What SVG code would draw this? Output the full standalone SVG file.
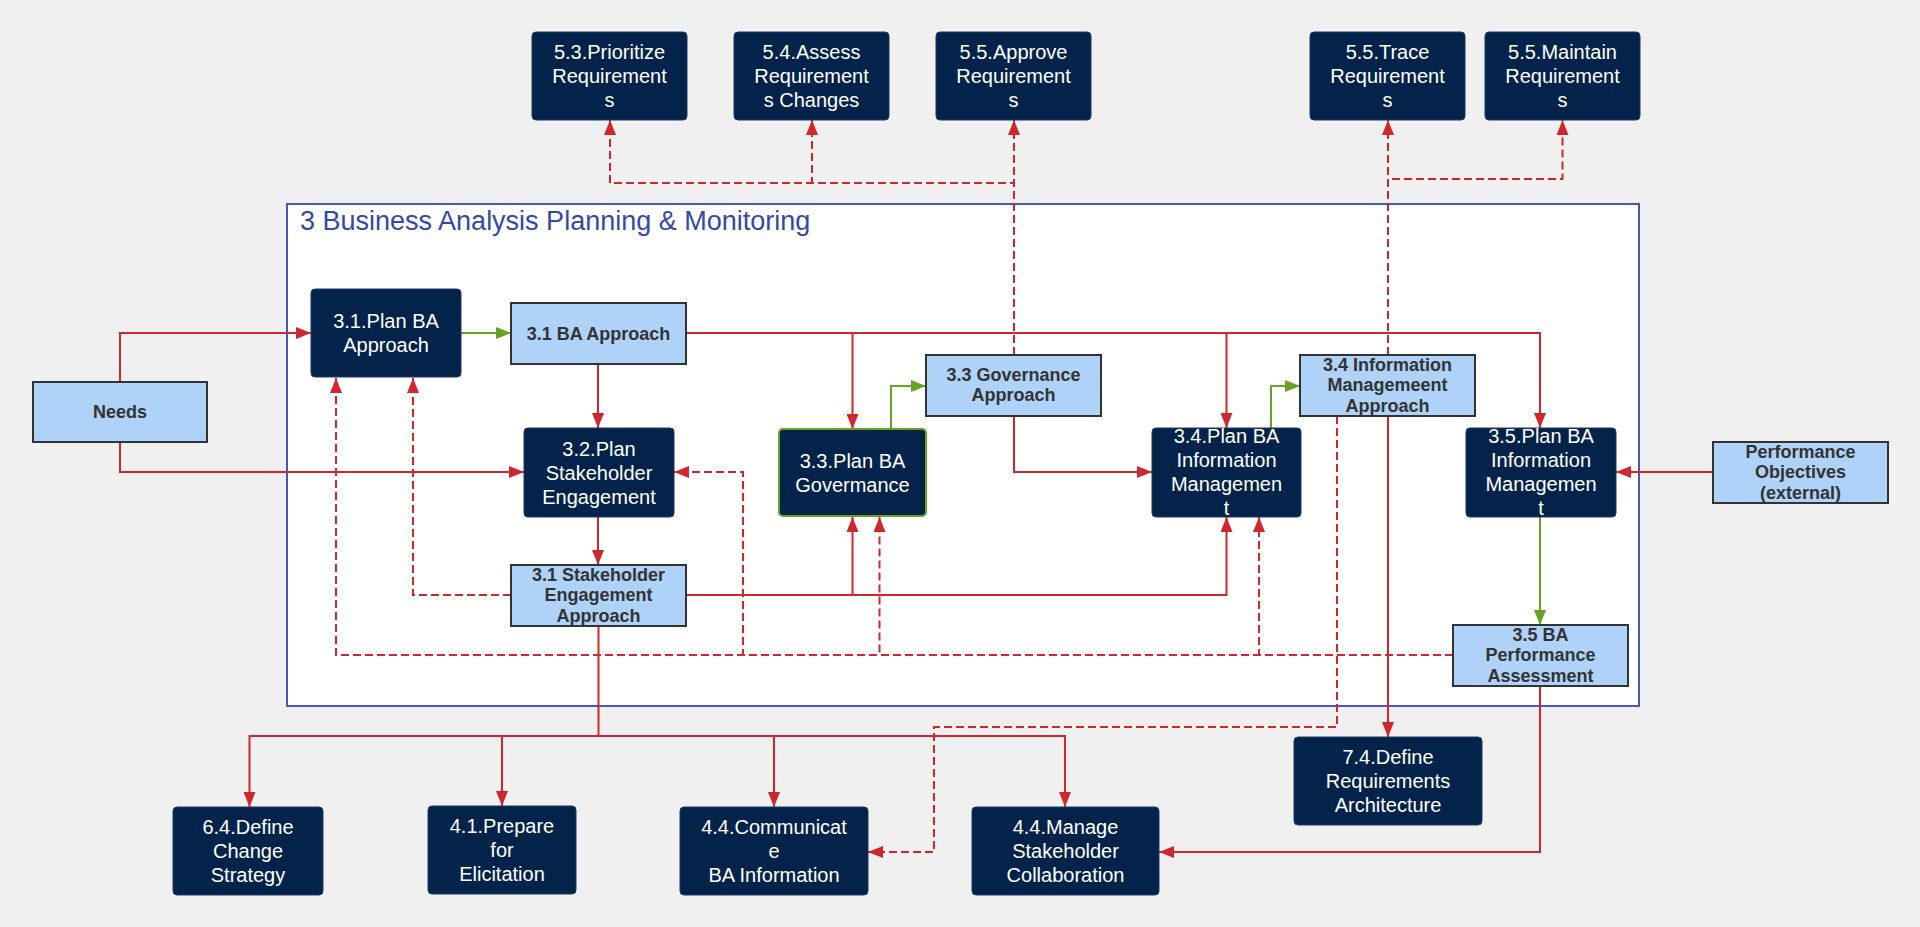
<svg xmlns="http://www.w3.org/2000/svg" width="1920" height="927" viewBox="0 0 1920 927">
<defs>
<marker id="ar" markerUnits="userSpaceOnUse" markerWidth="15" markerHeight="12" refX="15" refY="6" orient="auto"><path d="M0,0 L15,6 L0,12 z" fill="#D0262C"/></marker>
<marker id="ag" markerUnits="userSpaceOnUse" markerWidth="15" markerHeight="12" refX="15" refY="6" orient="auto"><path d="M0,0 L15,6 L0,12 z" fill="#67A223"/></marker>
<style>
.dk{fill:#04234A;stroke:#1d3a63;stroke-width:1}
.lt{fill:#AED2F8;stroke:#333;stroke-width:2}
.tw{font-family:"Liberation Sans",Arial,sans-serif;font-size:20px;fill:#fff;text-anchor:middle}
.tb{font-family:"Liberation Sans",Arial,sans-serif;font-size:18px;font-weight:bold;fill:#333;text-anchor:middle}
.r{fill:none;stroke:#D0262C;stroke-width:2;marker-end:url(#ar)}
.rd{fill:none;stroke:#D0262C;stroke-width:2;stroke-dasharray:8,4;marker-end:url(#ar)}
.g{fill:none;stroke:#67A223;stroke-width:2;marker-end:url(#ag)}
</style>
</defs>
<rect width="1920" height="927" fill="#F0F0F0"/>
<g id="container">
<rect x="287" y="204" width="1352" height="502" fill="#fff" stroke="#4658B8" stroke-width="2"/>
<text x="300" y="230" font-family="Liberation Sans,Arial,sans-serif" font-size="27" fill="#3448A8">3 Business Analysis Planning &amp; Monitoring</text>
</g>
<g id="connectors">
<path class="r" d="M120,382 V333 H311"/>
<path class="r" d="M120,442 V472 H524"/>
<path class="g" d="M461,333 H511"/>
<path class="r" d="M598,364 V428"/>
<path class="r" d="M686,333 H852.5 V429"/>
<path class="r" d="M686,333 H1226.5 V428"/>
<path class="r" d="M686,333 H1540 V428"/>
<path class="r" d="M598,517 V565"/>
<path class="r" d="M686,595 H852.5 V517"/>
<path class="r" d="M686,595 H1226.5 V517"/>
<path class="rd" d="M511,595 H413 V378"/>
<path class="r" d="M598.5,626 V736 H249.5 V807"/>
<path class="r" d="M598.5,736 H502 V806"/>
<path class="r" d="M598.5,736 H774 V807"/>
<path class="r" d="M598.5,736 H1065 V807"/>
<path class="g" d="M891,429 V386 H926"/>
<path class="r" d="M1014,416 V472 H1152"/>
<path class="rd" d="M1014,355 V183 H610 V120"/>
<path class="rd" d="M1014,355 V183 H812 V120"/>
<path class="rd" d="M1014,355 V120"/>
<path class="g" d="M1271,428 V386 H1300"/>
<path class="rd" d="M1388,355 V120"/>
<path class="rd" d="M1388,355 V179 H1562.5 V120"/>
<path class="r" d="M1388,416 V737"/>
<path class="rd" d="M1337,416 V727 H934 V852 H868"/>
<path class="r" d="M1713,472 H1616"/>
<path class="g" d="M1540,517 V625"/>
<path class="r" d="M1540,686 V852 H1159"/>
<path class="rd" d="M1453,655 H336 V378"/>
<path class="rd" d="M1453,655 H743 V472 H674"/>
<path class="rd" d="M1453,655 H879.5 V517"/>
<path class="rd" d="M1453,655 H1259 V517"/>
</g>
<g id="n53"><rect class="dk" x="532" y="32" width="155" height="88" rx="4"/><text class="tw" x="609.5" y="59">5.3.Prioritize</text><text class="tw" x="609.5" y="83">Requirement</text><text class="tw" x="609.5" y="107">s</text></g>
<g id="n54"><rect class="dk" x="734" y="32" width="155" height="88" rx="4"/><text class="tw" x="811.5" y="59">5.4.Assess</text><text class="tw" x="811.5" y="83">Requirement</text><text class="tw" x="811.5" y="107">s Changes</text></g>
<g id="n55a"><rect class="dk" x="936" y="32" width="155" height="88" rx="4"/><text class="tw" x="1013.5" y="59">5.5.Approve</text><text class="tw" x="1013.5" y="83">Requirement</text><text class="tw" x="1013.5" y="107">s</text></g>
<g id="n55t"><rect class="dk" x="1310" y="32" width="155" height="88" rx="4"/><text class="tw" x="1387.5" y="59">5.5.Trace</text><text class="tw" x="1387.5" y="83">Requirement</text><text class="tw" x="1387.5" y="107">s</text></g>
<g id="n55m"><rect class="dk" x="1485" y="32" width="155" height="88" rx="4"/><text class="tw" x="1562.5" y="59">5.5.Maintain</text><text class="tw" x="1562.5" y="83">Requirement</text><text class="tw" x="1562.5" y="107">s</text></g>
<g id="needs"><rect class="lt" x="33" y="382" width="174" height="60"/><text class="tb" x="120" y="418">Needs</text></g>
<g id="n31"><rect class="dk" x="311" y="289" width="150" height="88" rx="4"/><text class="tw" x="386" y="328">3.1.Plan BA</text><text class="tw" x="386" y="352">Approach</text></g>
<g id="o31"><rect class="lt" x="511" y="303" width="175" height="61"/><text class="tb" x="598.5" y="340">3.1 BA Approach</text></g>
<g id="n32"><rect class="dk" x="524" y="428" width="150" height="89" rx="4"/><text class="tw" x="599" y="456">3.2.Plan</text><text class="tw" x="599" y="480">Stakeholder</text><text class="tw" x="599" y="504">Engagement</text></g>
<g id="o31s"><rect class="lt" x="511" y="565" width="175" height="61"/><text class="tb" x="598.5" y="580.5">3.1 Stakeholder</text><text class="tb" x="598.5" y="601">Engagement</text><text class="tb" x="598.5" y="621.5">Approach</text></g>
<g id="n33"><rect x="779" y="429" width="147" height="87" rx="4" fill="#04234A" stroke="#67A223" stroke-width="2"/><text class="tw" x="852.5" y="468">3.3.Plan BA</text><text class="tw" x="852.5" y="492">Govermance</text></g>
<g id="o33"><rect class="lt" x="926" y="355" width="175" height="61"/><text class="tb" x="1013.5" y="381">3.3 Governance</text><text class="tb" x="1013.5" y="401">Approach</text></g>
<g id="n34"><rect class="dk" x="1152" y="428" width="149" height="89" rx="4"/><text class="tw" x="1226.5" y="443">3.4.Plan BA</text><text class="tw" x="1226.5" y="467">Information</text><text class="tw" x="1226.5" y="491">Managemen</text><text class="tw" x="1226.5" y="515">t</text></g>
<g id="o34"><rect class="lt" x="1300" y="355" width="175" height="61"/><text class="tb" x="1387.5" y="370.5">3.4 Information</text><text class="tb" x="1387.5" y="391">Managemeent</text><text class="tb" x="1387.5" y="411.5">Approach</text></g>
<g id="n35"><rect class="dk" x="1466" y="428" width="150" height="89" rx="4"/><text class="tw" x="1541" y="443">3.5.Plan BA</text><text class="tw" x="1541" y="467">Information</text><text class="tw" x="1541" y="491">Managemen</text><text class="tw" x="1541" y="515">t</text></g>
<g id="perf"><rect class="lt" x="1713" y="442" width="175" height="61"/><text class="tb" x="1800.5" y="457.5">Performance</text><text class="tb" x="1800.5" y="478">Objectives</text><text class="tb" x="1800.5" y="498.5">(external)</text></g>
<g id="o35"><rect class="lt" x="1453" y="625" width="175" height="61"/><text class="tb" x="1540.5" y="640.5">3.5 BA</text><text class="tb" x="1540.5" y="661">Performance</text><text class="tb" x="1540.5" y="681.5">Assessment</text></g>
<g id="n64"><rect class="dk" x="173" y="807" width="150" height="88" rx="4"/><text class="tw" x="248" y="834">6.4.Define</text><text class="tw" x="248" y="858">Change</text><text class="tw" x="248" y="882">Strategy</text></g>
<g id="n41"><rect class="dk" x="428" y="806" width="148" height="88" rx="4"/><text class="tw" x="502" y="833">4.1.Prepare</text><text class="tw" x="502" y="857">for</text><text class="tw" x="502" y="881">Elicitation</text></g>
<g id="n44c"><rect class="dk" x="680" y="807" width="188" height="88" rx="4"/><text class="tw" x="774" y="834">4.4.Communicat</text><text class="tw" x="774" y="858">e</text><text class="tw" x="774" y="882">BA Information</text></g>
<g id="n44m"><rect class="dk" x="972" y="807" width="187" height="88" rx="4"/><text class="tw" x="1065.5" y="834">4.4.Manage</text><text class="tw" x="1065.5" y="858">Stakeholder</text><text class="tw" x="1065.5" y="882">Collaboration</text></g>
<g id="n74"><rect class="dk" x="1294" y="737" width="188" height="88" rx="4"/><text class="tw" x="1388" y="764">7.4.Define</text><text class="tw" x="1388" y="788">Requirements</text><text class="tw" x="1388" y="812">Architecture</text></g>
</svg>
